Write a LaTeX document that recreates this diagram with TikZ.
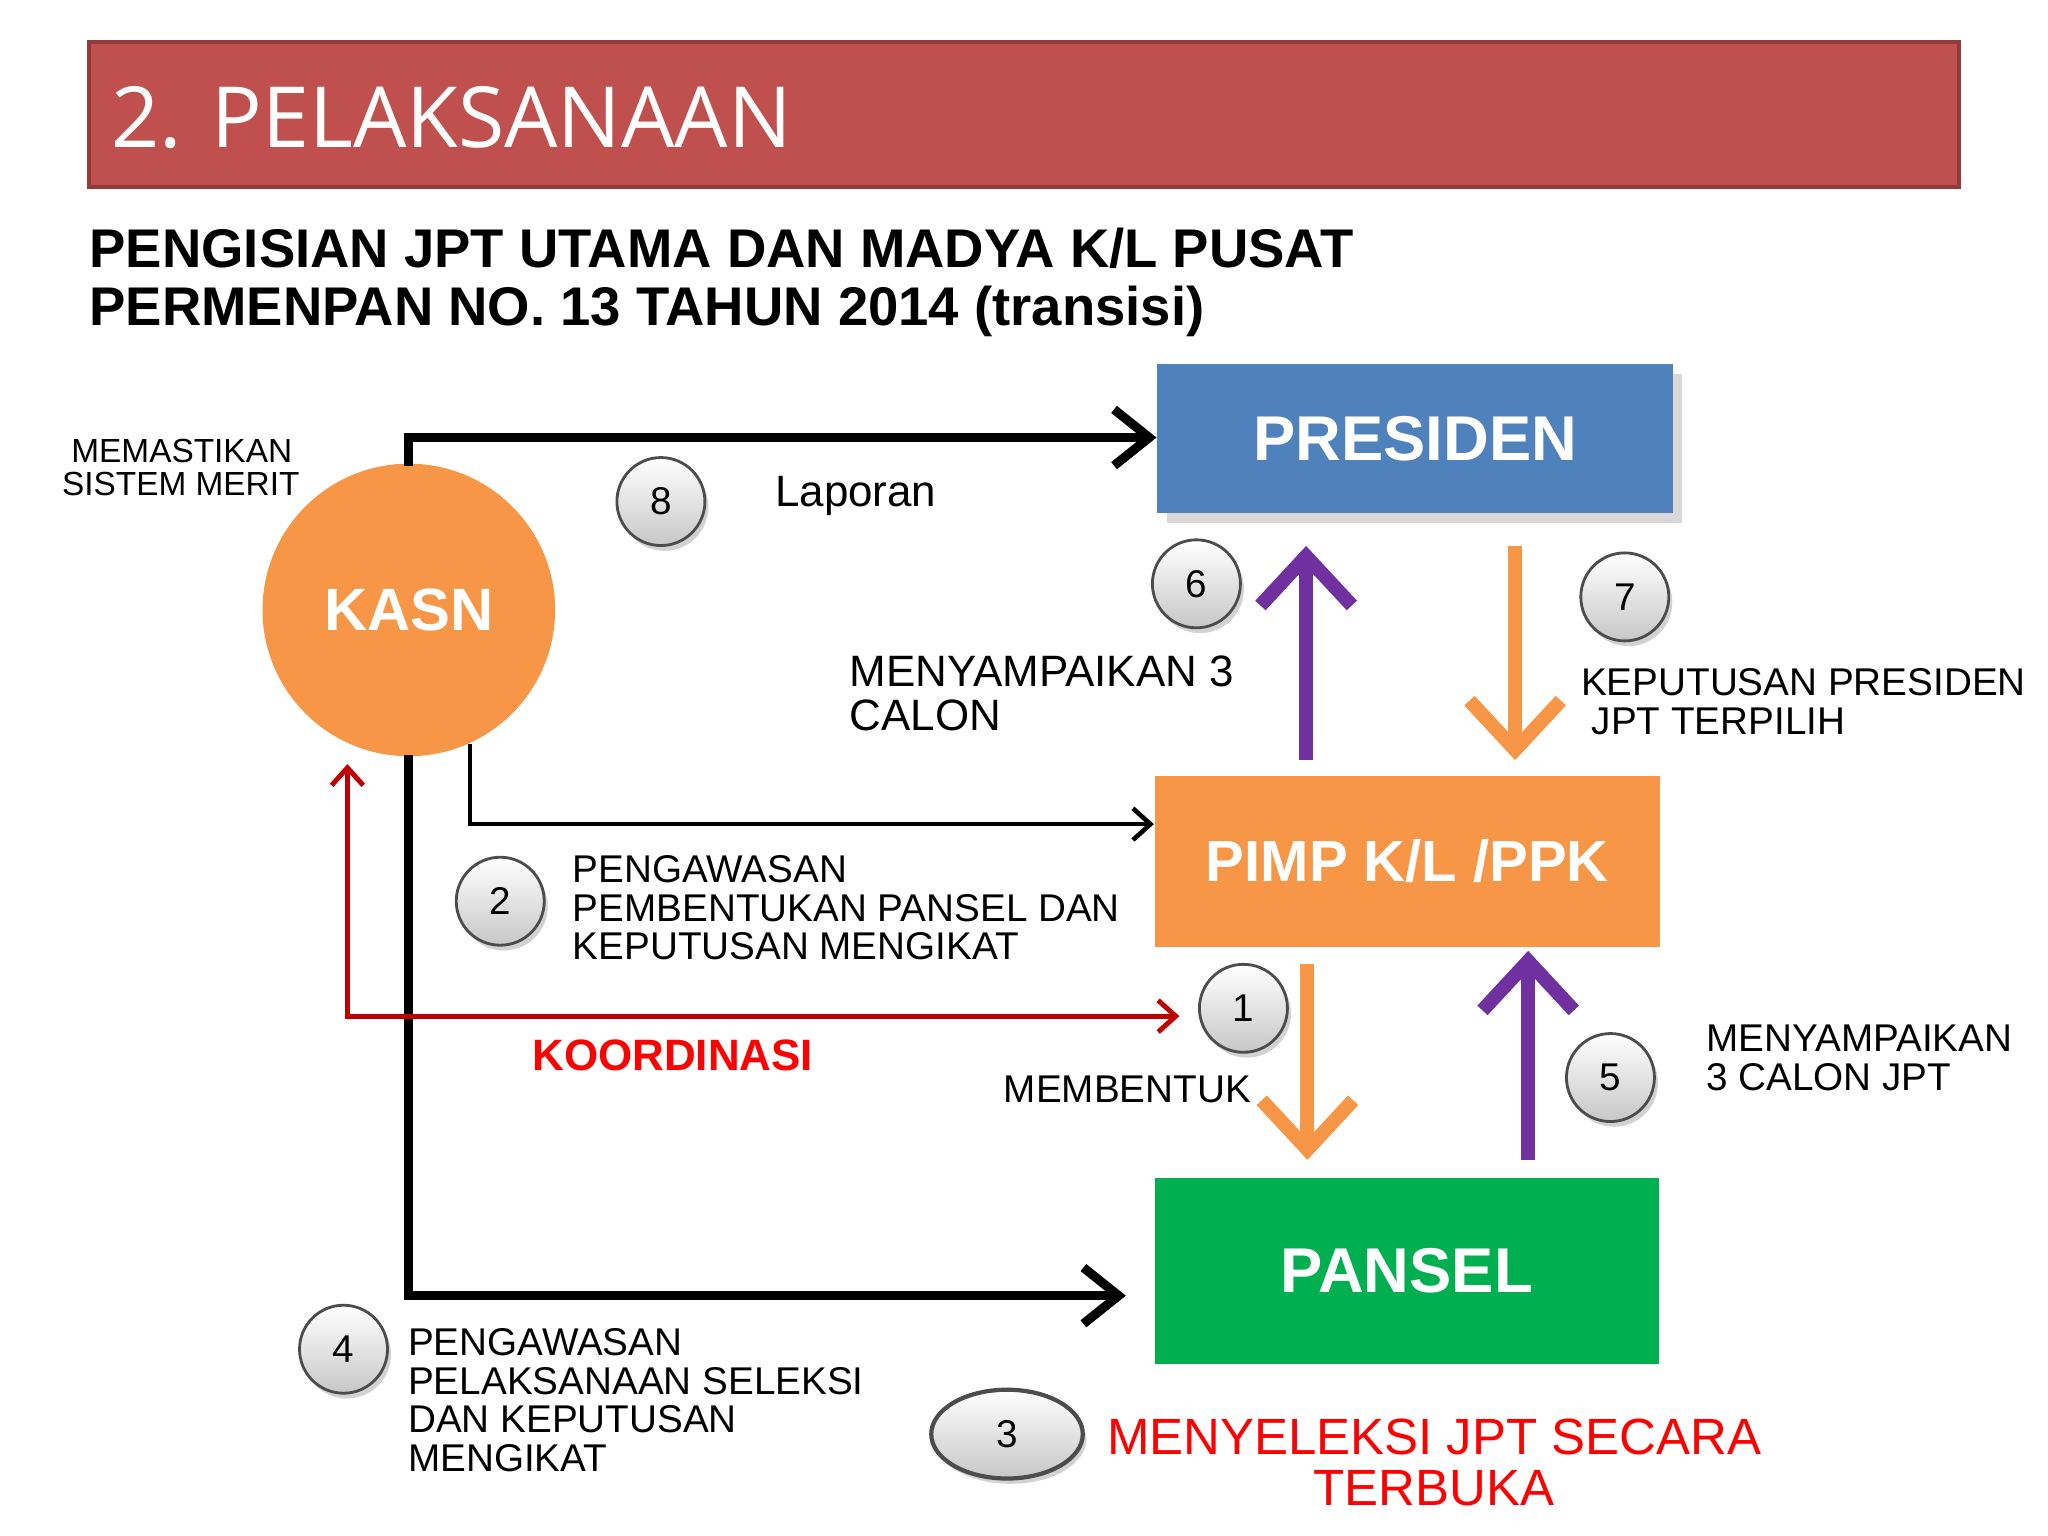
\documentclass[tikz,border=0pt]{standalone}
\usepackage{fontspec}
\setmainfont{Liberation Sans}
\newfontfamily\titlefont{Open Sans}
\usetikzlibrary{arrows.meta,shadows,shapes.geometric}
\newcommand{\fs}[1]{\fontsize{#1}{#1*1.2}\selectfont}
\definecolor{tred}{HTML}{C0504D}
\definecolor{pblue}{HTML}{4F81BD}
\definecolor{porange}{HTML}{F79646}
\definecolor{pgreen}{HTML}{00B050}
\definecolor{ppurple}{HTML}{7030A0}
\begin{document}
\begin{tikzpicture}[x=0.01306cm,y=-0.01306cm,
  lbl/.style={anchor=west,align=left,font=\fs{11pt},inner sep=0pt},
  numc/.style={circle,draw=black!70,line width=0.8pt,minimum size=0.88cm,inner sep=0pt,
    top color=white,bottom color=black!22,font=\fs{11pt},drop shadow={opacity=0.35,shadow xshift=1pt,shadow yshift=-1.5pt}},
  box/.style={draw=none,inner sep=0pt,text=white,font=\bfseries\fs{18pt}},
  big/.style={line width=2.6pt,-{Straight Barb[length=10pt,width=16pt,line width=2.6pt]}},
  fat/.style={line width=4pt,-{Straight Barb[length=14pt,width=26pt,line width=4pt]}}]
\useasboundingbox (0,0) rectangle (1568,1176);
\fill[white] (0,0) rectangle (1568,1176);
\node[draw=tred!75!black,line width=1pt,fill=tred,minimum width=1432*0.01306cm,minimum height=111*0.01306cm,inner sep=0pt] (title) at (784,87.5) {};
\node[anchor=west,text=white,font=\titlefont\fs{24pt},inner sep=0pt] (tt) at (85,90) {2. PELAKSANAAN};
\node[anchor=west,align=left,font=\bfseries\fs{15.5pt},inner sep=0pt] (sub) at (68,216) {PENGISIAN JPT UTAMA DAN MADYA K/L PUSAT\\[1pt]PERMENPAN NO. 13 TAHUN 2014 (transisi)};
% boxes
\node[box,fill=pblue,minimum width=395*0.01306cm,minimum height=114*0.01306cm,drop shadow={opacity=0.3}] (pres) at (1083.5,336) {PRESIDEN};
\node[box,fill=porange,minimum width=387*0.01306cm,minimum height=131*0.01306cm,font=\bfseries\fs{16.5pt}] (pimp) at (1077.5,659.5) {PIMP K/L /PPK};
\node[box,fill=pgreen,minimum width=386*0.01306cm,minimum height=142*0.01306cm] (pansel) at (1077,973) {PANSEL};
\node[circle,fill=porange,minimum size=224*0.01306cm,inner sep=0pt,text=white,font=\bfseries\fs{17pt}] (kasn) at (313,467) {KASN};
% black connectors
\coordinate (k1) at (313,357);
\coordinate (k2) at (313,578);
\coordinate (k3) at (360,570);
\draw[big] (k1) -- (313,335) -- (pres.west |- 0,335);
\draw[big] (k2) -- (313,992) -- (862,992);
\draw[line width=1.3pt,-{Straight Barb[length=5pt,width=9pt,line width=1.3pt]}] (k3) -- (360,631) -- (pimp.west |- 0,631);
% red coordination
\coordinate (r1) at (903,778);
\coordinate (r2) at (266,585);
\draw[red!75!black,line width=1.4pt,{Straight Barb[length=5pt,width=9pt,line width=1.4pt]}-{Straight Barb[length=5pt,width=9pt,line width=1.4pt]}] (r2) -- (266,778) -- (r1);
% vertical arrows
\draw[fat,ppurple] (1000,582) -- (1000,418);
\draw[fat,porange] (1160,418) -- (1160,582);
\draw[fat,porange] (1001,738) -- (1001,888);
\draw[fat,ppurple] (1170,888) -- (1170,728);
% numbers
\node[numc] (n8) at (506,384) {8};
\node[numc] (n6) at (916,447) {6};
\node[numc] (n7) at (1244,457) {7};
\node[numc] (n2) at (383,690) {2};
\node[numc] (n1) at (952,772) {1};
\node[numc] (n5) at (1233,825) {5};
\node[numc] (n4) at (263,1033) {4};
\node[ellipse,draw=black!70,line width=1.2pt,minimum width=116*0.01306cm,minimum height=68*0.01306cm,inner sep=0pt,top color=white,bottom color=black!22,font=\fs{11pt},drop shadow={opacity=0.35,shadow xshift=1pt,shadow yshift=-1.5pt}] (n3) at (771,1098) {3};
% labels
\node[lbl,font=\fs{9.5pt}] (l0) at (47,358) {\ MEMASTIKAN\\SISTEM MERIT};
\node[lbl,font=\fs{12.5pt}] (l8) at (593,380) {Laporan};
\node[lbl,font=\fs{12.5pt}] (l6) at (650,531) {MENYAMPAIKAN 3\\CALON};
\node[lbl] (l7) at (1210,537) {KEPUTUSAN PRESIDEN\\\ JPT TERPILIH};
\node[lbl] (l2) at (438,695) {PENGAWASAN\\PEMBENTUKAN PANSEL DAN\\KEPUTUSAN MENGIKAT};
\node[lbl,text=red,font=\bfseries\fs{12.5pt}] (lk) at (407,808) {KOORDINASI};
\node[lbl] (l1) at (768,834) {MEMBENTUK};
\node[lbl] (l5) at (1306,810) {MENYAMPAIKAN\\3 CALON JPT};
\node[lbl] (l4) at (312,1072) {PENGAWASAN\\PELAKSANAAN SELEKSI\\DAN KEPUTUSAN\\MENGIKAT};
\node[align=center,text=red,font=\fs{14.5pt},inner sep=0pt] (l3) at (1098,1120) {MENYELEKSI JPT SECARA\\TERBUKA};
\end{tikzpicture}
\end{document}
